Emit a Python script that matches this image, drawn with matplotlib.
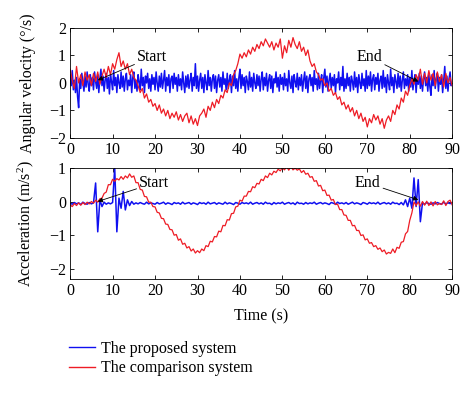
import matplotlib
matplotlib.use("Agg")
import matplotlib.pyplot as plt
import numpy as np

plt.rcParams["font.family"] = ["Liberation Serif", "DejaVu Serif"]
plt.rcParams["mathtext.fontset"] = "custom"
plt.rcParams["mathtext.rm"] = "Liberation Serif"
plt.rcParams["mathtext.it"] = "Liberation Serif:italic"
plt.rcParams["font.size"] = 11.5

# Angular velocity (deg/s), proposed system, one value every 0.25 s
gyro_proposed = [
    0.3, -0.1, 0.45, -0.25, 0.1, -0.35, 0.2, -0.5, -0.9, 0.15, -0.2, 0.35, 0.0, -0.3, 0.25, -0.15, 0.4, -0.05, -0.3, 0.3,
    -0.1, 0.2, -0.25, 0.4, 0.05, -0.2, 0.3, -0.35, 0.15, 0.5, -0.1, 0.25, -0.3, 0.1, 0.35, -0.2, 0.2, -0.4, 0.3, 0.05,
    -0.25, 0.45, -0.1, 0.2, -0.35, 0.3, 0.0, -0.2, 0.4, -0.15, 0.25, -0.3, 0.15, 0.35, -0.25, 0.1, -0.1, 0.3, -0.35, 0.2,
    0.4, -0.2, 0.1, -0.3, 0.3, 0.05, -0.25, 0.5, -0.1, 0.2, -0.35, 0.25, 0.0, 0.35, -0.2, 0.15, -0.3, 0.3, -0.05, 0.2,
    -0.25, 0.4, 0.0, -0.3, 0.25, -0.15, 0.35, -0.2, 0.1, 0.45, -0.3, 0.2, -0.1, 0.3, -0.35, 0.15, 0.25, -0.2, 0.35, -0.05,
    0.2, -0.3, 0.3, -0.1, 0.15, -0.25, 0.4, 0.0, -0.35, 0.25, -0.15, 0.3, -0.2, 0.1, 0.35, -0.3, 0.2, -0.1, 0.7, -0.2,
    0.25, -0.3, 0.1, 0.35, -0.2, 0.2, -0.35, 0.3, 0.0, -0.25, 0.45, -0.1, 0.2, -0.3, 0.15, 0.3, -0.2, 0.25, -0.35, 0.1,
    0.3, -0.15, 0.2, -0.3, 0.4, -0.05, 0.15, -0.25, 0.35, -0.2, 0.1, 0.3, -0.35, 0.25, -0.1, 0.45, -0.2, 0.15, -0.3, 0.2,
    0.5, -0.2, 0.3, -0.1, 0.2, -0.35, 0.25, 0.05, -0.25, 0.4, -0.15, 0.2, -0.3, 0.35, 0.0, -0.2, 0.3, -0.1, 0.25, -0.3,
    0.15, 0.4, -0.25, 0.2, -0.1, 0.35, -0.3, 0.1, 0.3, -0.2, 0.25, -0.35, 0.15, 0.0, 0.4, -0.15, 0.2, -0.3, 0.3, -0.05,
    0.2, -0.25, 0.35, -0.1, 0.15, -0.3, 0.45, 0.0, -0.2, 0.25, -0.35, 0.3, 0.05, -0.15, 0.35, -0.25, 0.2, -0.1, 0.3, -0.3,
    0.1, 0.4, -0.2, 0.25, -0.35, 0.15, 0.3, -0.1, 0.2, -0.3, 0.45, -0.05, 0.15, -0.25, 0.35, -0.2, 0.1, 0.3, -0.35, 0.2,
    0.5, -0.15, 0.25, -0.3, 0.1, 0.35, -0.2, 0.2, -0.1, 0.3, -0.35, 0.15, 0.0, 0.4, -0.25, 0.2, -0.1, 0.6, -0.3, 0.15,
    -0.2, 0.35, -0.1, 0.2, -0.3, 0.25, 0.05, -0.25, 0.4, -0.15, 0.2, -0.35, 0.3, 0.0, -0.2, 0.35, -0.1, 0.15, -0.3, 0.45,
    -0.2, 0.25, -0.1, 0.4, -0.3, 0.15, 0.3, -0.25, 0.2, -0.05, 0.35, -0.3, 0.1, 0.25, -0.2, 0.45, -0.15, 0.2, -0.35, 0.3,
    0.0, -0.25, 0.5, -0.1, 0.2, -0.35, 0.3, 0.05, -0.2, 0.35, -0.15, 0.25, -0.3, 0.1, 0.4, -0.2, 0.15, -0.1, 0.3, -0.3,
    0.2, -0.15, 0.45, -0.25, 0.1, 0.3, -0.35, 0.2, -0.05, 0.35, -0.2, 0.25, -0.3, 0.15, 0.4, -0.1, 0.2, -0.3, 0.3, -0.15,
    -0.45, 0.3, -0.1, 0.45, -0.2, 0.15, 0.35, -0.3, 0.2, -0.05, 0.3, -0.35, 0.1, 0.6, -0.2, 0.25, -0.3, 0.15, 0.4, -0.1,
    0.0,
]

# Angular velocity (deg/s), comparison system, one value every 0.5 s
gyro_comparison = [
    0.5, 0.1, -0.2, 0.6, 0.0, 0.3, -0.1, 0.4, 0.1, 0.3,
    -0.1, 0.35, 0.05, 0.4, -0.05, 0.25, 0.5, 0.2, 0.6, 0.3,
    0.7, 0.5, 0.85, 1.1, 0.6, 0.8, 0.5, 0.7, 0.3, 0.5,
    0.2, 0.1, -0.1, -0.35, -0.2, -0.55, -0.4, -0.7, -0.6, -0.85,
    -0.75, -1.0, -0.8, -1.1, -0.95, -1.2, -1.0, -1.3, -1.1, -1.25,
    -1.05, -1.35, -1.15, -1.4, -1.2, -1.1, -1.45, -1.2, -1.5, -1.3,
    -1.55, -1.2, -1.1, -0.95, -1.25, -0.85, -1.0, -0.7, -0.9, -0.6,
    -0.75, -0.45, -0.55, -0.25, -0.35, 0.0, -0.1, 0.3, 0.45, 0.7,
    1.05, 0.9, 1.1, 0.95, 1.2, 1.05, 1.3, 1.15, 1.4, 1.25,
    1.5, 1.35, 1.6, 1.45, 1.3, 1.5, 1.2, 1.45, 1.3, 1.6,
    0.9, 1.35, 1.1, 1.55, 1.3, 1.65, 1.4, 1.25, 1.5, 1.15,
    1.3, 1.0, 1.2, 0.8, 0.6, 0.7, 0.4, 0.3, 0.1, 0.15,
    -0.1, 0.0, -0.3, -0.2, -0.45, -0.35, -0.6, -0.5, -0.8, -0.7,
    -0.95, -0.8, -1.05, -0.9, -1.2, -1.0, -1.3, -1.1, -1.4, -1.25,
    -1.6, -1.3, -1.45, -1.15, -1.35, -1.2, -1.5, -1.3, -1.65, -1.35,
    -1.2, -1.4, -1.0, -1.15, -0.8, -0.95, -0.55, -0.7, -0.3, -0.45,
    -0.1, 0.15, -0.05, 0.3, 0.1, 0.5, -0.05, 0.35, 0.0, 0.45,
    0.1, 0.35, -0.1, 0.4, 0.05, 0.3, -0.15, 0.35, 0.0, 0.2,
    -0.1,
]

# Acceleration (m/s^2), proposed system, one value every 0.5 s
acc_proposed = [
    -0.05, -0.08, -0.03, -0.07, -0.04, -0.09, -0.02, -0.06, -0.08, -0.03,
    -0.07, -0.04, 0.55, -0.9, 0.05, -0.15, -0.02, -0.08, -0.04, -0.07,
    -0.03, 1.0, -0.9, 0.1, -0.2, 0.3, -0.25, 0.05, -0.12, 0.0,
    -0.08, -0.04, -0.07, -0.03, -0.06, -0.08, -0.02, -0.07, -0.04, -0.06,
    -0.08, -0.03, -0.07, -0.05, -0.02, -0.08, -0.04, -0.06, -0.09, -0.03,
    -0.06, -0.04, -0.08, -0.02, -0.07, -0.05, -0.03, -0.08, -0.04, -0.06,
    -0.09, -0.03, -0.06, -0.04, -0.08, -0.02, -0.07, -0.05, -0.03, -0.08,
    -0.04, -0.06, -0.08, -0.02, -0.07, -0.04, -0.06, -0.09, -0.03, -0.05,
    -0.08, -0.03, -0.06, -0.04, -0.07, -0.02, -0.08, -0.05, -0.03, -0.07,
    -0.04, -0.08, -0.02, -0.06, -0.05, -0.09, -0.03, -0.07, -0.04, -0.06,
    -0.02, -0.08, -0.05, -0.03, -0.07, -0.04, -0.09, -0.02, -0.06, -0.05,
    -0.08, -0.03, -0.07, -0.04, -0.06, -0.02, -0.08, -0.05, -0.03, -0.07,
    -0.04, -0.06, -0.09, -0.03, -0.05, -0.08, -0.02, -0.06, -0.04, -0.07,
    -0.03, -0.08, -0.05, -0.02, -0.07, -0.04, -0.06, -0.09, -0.03, -0.05,
    -0.08, -0.03, -0.06, -0.04, -0.07, -0.02, -0.08, -0.05, -0.03, -0.07,
    -0.04, -0.08, -0.02, -0.06, -0.05, -0.09, -0.03, -0.1, 0.05, -0.15,
    0.1, -0.2, 0.7, -0.15, 0.65, -0.6, -0.04, -0.08, -0.03, -0.06,
    -0.08, -0.04, -0.07, -0.03, -0.06, -0.08, -0.02, -0.07, -0.04, -0.06,
    -0.05,
]

# Acceleration (m/s^2), comparison system, one value every 0.5 s
acc_comparison = [
    -0.1, -0.15, -0.06, -0.12, -0.04, -0.11, -0.03, -0.09, -0.02, -0.07,
    0.0, -0.05, 0.04, -0.02, 0.08, 0.1, 0.24, 0.28, 0.5, 0.5,
    0.66, 0.6, 0.68, 0.64, 0.74, 0.66, 0.76, 0.7, 0.82, 0.72,
    0.76, 0.56, 0.56, 0.36, 0.34, 0.15, 0.14, -0.02, -0.02, -0.15,
    -0.16, -0.32, -0.34, -0.5, -0.51, -0.67, -0.68, -0.83, -0.84, -1.0,
    -0.98, -1.15, -1.11, -1.27, -1.24, -1.38, -1.34, -1.47, -1.41, -1.53,
    -1.46, -1.52, -1.41, -1.46, -1.31, -1.34, -1.18, -1.2, -1.04, -1.05,
    -0.88, -0.9, -0.71, -0.72, -0.54, -0.55, -0.36, -0.35, -0.16, -0.14,
    0.04, 0.01, 0.16, 0.16, 0.3, 0.29, 0.44, 0.41, 0.54, 0.52,
    0.66, 0.62, 0.76, 0.71, 0.84, 0.79, 0.9, 0.86, 0.96, 0.91,
    1.0, 0.94, 1.04, 0.93, 1.04, 0.94, 0.99, 0.93, 0.97, 0.86,
    0.92, 0.81, 0.84, 0.72, 0.74, 0.6, 0.62, 0.46, 0.48, 0.32,
    0.34, 0.18, 0.19, 0.04, 0.06, -0.09, -0.08, -0.24, -0.24, -0.4,
    -0.41, -0.56, -0.56, -0.72, -0.71, -0.86, -0.86, -1.01, -0.99, -1.14,
    -1.11, -1.24, -1.22, -1.34, -1.31, -1.42, -1.38, -1.49, -1.44, -1.56,
    -1.51, -1.54, -1.41, -1.52, -1.36, -1.39, -1.21, -1.19, -0.96, -0.89,
    -0.56, -0.34, -0.01, -0.12, -0.01, -0.14, 0.0, -0.11, 0.01, -0.12,
    -0.01, -0.13, 0.0, -0.1, -0.06, -0.09, 0.02, -0.12, 0.0, 0.04,
    -0.1,
]

labels = ["The proposed system", "The comparison system"]
blue = "#1010f0"
red = "#ee1c25"

t_fine = np.linspace(0, 90, len(gyro_proposed))
t_coarse = np.linspace(0, 90, len(gyro_comparison))

fig = plt.figure(figsize=(4.74, 3.94), dpi=100)
ax1 = fig.add_axes([0.148, 0.650, 0.806, 0.279])
ax2 = fig.add_axes([0.148, 0.292, 0.806, 0.282])

ax1.plot(t_fine, gyro_proposed, color=blue, lw=1.1)
ax1.plot(t_coarse, gyro_comparison, color=red, lw=0.9)
ax2.plot(np.linspace(0, 90, len(acc_proposed)), acc_proposed, color=blue, lw=1.1)
ax2.plot(np.linspace(0, 90, len(acc_comparison)), acc_comparison, color=red, lw=0.9)

ax1.set_ylim(-2, 2)
ax1.set_yticks([-2, -1, 0, 1, 2])
ax1.set_ylabel("Angular velocity (°/s)")
ax2.set_ylim(-2.3, 1)
ax2.set_yticks([-2, -1, 0, 1])
ax2.set_ylabel("Acceleration (m/s$^2$)")
ax2.set_xlabel("Time (s)", labelpad=7)

for ax in (ax1, ax2):
    ax.set_xlim(0, 90)
    ax.set_xticks(range(0, 91, 10))
    ax.tick_params(direction="in", top=True, right=True, length=3, width=0.6, pad=3)
    ax.yaxis.set_label_coords(-0.089, 0.5)
    for s in ax.spines.values():
        s.set_linewidth(0.6)
    ax.yaxis.set_major_formatter(matplotlib.ticker.FuncFormatter(
        lambda v, p: f"{int(v)}".replace("-", "\u2212")))

arrow = dict(arrowstyle="-|>", color="black", lw=0.6, mutation_scale=7,
             shrinkA=0, shrinkB=0)
ax1.annotate("Start", xy=(6.5, 0.1), xytext=(15.8, 0.95), va="center",
             ha="left", arrowprops=arrow)
ax1.annotate("End", xy=(82, 0.05), xytext=(67.4, 0.95), va="center",
             ha="left", arrowprops=arrow)
ax2.annotate("Start", xy=(6.5, 0.0), xytext=(16.3, 0.55), va="center",
             ha="left", arrowprops=arrow)
ax2.annotate("End", xy=(82, 0.05), xytext=(67.0, 0.55), va="center",
             ha="left", arrowprops=arrow)

handles = [plt.Line2D([], [], color=blue, lw=1.0),
           plt.Line2D([], [], color=red, lw=1.0)]
fig.legend(handles, labels, loc="center left", bbox_to_anchor=(0.146, 0.09),
           frameon=False, borderpad=0, borderaxespad=0, handlelength=1.6,
           handletextpad=0.4, labelspacing=0.2)

fig.savefig("out.png", dpi=100)
